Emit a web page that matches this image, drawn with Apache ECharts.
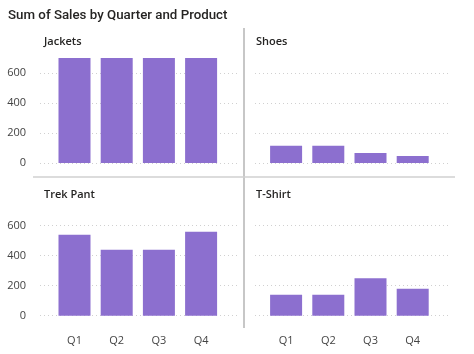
<!DOCTYPE html>
<html><head><meta charset="utf-8">
<script src="https://cdn.jsdelivr.net/npm/echarts@6/dist/echarts.min.js"></script>
<style>html,body{margin:0;padding:0;background:#fff}#c{width:474px;height:354px}</style>
</head><body><div id="c"></div>
<script>
const quarters = ['Q1','Q2','Q3','Q4'];
const products = ['Jackets','Shoes','Trek Pant','T-Shirt'];
const jackets = [700, 700, 700, 700];
const shoes = [115, 115, 67, 47];
const trekPant = [540, 440, 440, 560];
const tShirt = [140, 140, 250, 180];
const yTicks = [0, 200, 400, 600];
const seriesData = [jackets, shoes, trekPant, tShirt];

const FONT = 'Open Sans';
const TFONT = 'Roboto';
const barColor = '#8C6FCF';
const labelColor = '#444';

const panels = [
  {gl:40, gw:198, bl:53.4, bw:168.8, top:73, barTop:58, barMax:700, yLabels:true, xLabels:false},
  {gl:255, gw:193, bl:265, bw:168.8, top:73, barTop:58, barMax:700, yLabels:false, xLabels:false},
  {gl:40, gw:198, bl:53.4, bw:168.8, top:225.7, barTop:225.7, barMax:600, yLabels:true, xLabels:true},
  {gl:255, gw:193, bl:265, bw:168.8, top:225.7, barTop:225.7, barMax:600, yLabels:false, xLabels:true}
];

const grids = [], xAxes = [], yAxes = [], series = [];
panels.forEach((p, i) => {
  grids.push({left:p.gl, width:p.gw, top:p.top, height:90});
  xAxes.push({type:'category', gridIndex:grids.length-1, data:quarters, show:false});
  yAxes.push({type:'value', gridIndex:grids.length-1, min:0, max:yTicks[yTicks.length-1], interval:200,
    axisLine:{show:false}, axisTick:{show:false},
    axisLabel:{show:p.yLabels, margin:14, color:labelColor, fontSize:11, fontFamily:FONT},
    splitLine:{show:true, lineStyle:{color:'#d0d0d0', type:[1,3], width:1}}});
  grids.push({left:p.bl, width:p.bw, top:p.barTop, height:90*p.barMax/600});
  const gi = grids.length-1;
  xAxes.push({type:'category', gridIndex:gi, data:quarters,
    axisLine:{show:false}, axisTick:{show:false},
    axisLabel:{show:p.xLabels, margin:20, color:labelColor, fontSize:11, fontFamily:FONT}});
  yAxes.push({type:'value', gridIndex:gi, min:0, max:p.barMax, show:false, splitLine:{show:false}});
  series.push({type:'bar', xAxisIndex:xAxes.length-1, yAxisIndex:yAxes.length-1,
    data:seriesData[i], barWidth:32, itemStyle:{color:barColor}, silent:true});
});

const ptStyle = {fontSize:11, fontWeight:600, color:'#252423', fontFamily:FONT};
const titles = [
  {text:'Sum of Sales by Quarter and Product', left:8, top:9.5, padding:0,
   textStyle:{fontSize:13.3, fontWeight:500, color:'#252423', fontFamily:TFONT}},
  {text:products[0], left:44, top:36.5, padding:0, textStyle:ptStyle},
  {text:products[1], left:256, top:36.5, padding:0, textStyle:ptStyle},
  {text:products[2], left:44, top:189.5, padding:0, textStyle:ptStyle},
  {text:products[3], left:256, top:189.5, padding:0, textStyle:ptStyle}
];

const chart = echarts.init(document.getElementById('c'), null, {renderer:'canvas'});
chart.setOption({
  animation:false,
  title:titles,
  grid:grids, xAxis:xAxes, yAxis:yAxes, series:series,
  graphic:[
    {type:'line', shape:{x1:244, y1:28, x2:244, y2:328}, style:{stroke:'#b4b4b4', lineWidth:1.5}, silent:true},
    {type:'line', shape:{x1:33, y1:177, x2:455, y2:177}, style:{stroke:'#d0d0d0', lineWidth:1.5}, silent:true}
  ]
});
</script></body></html>
